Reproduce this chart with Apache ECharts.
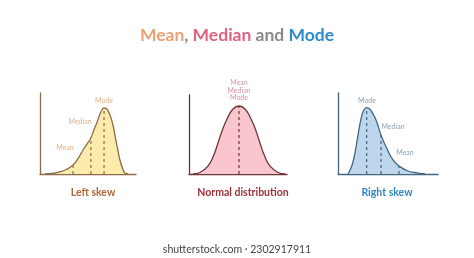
<!DOCTYPE html>
<html><head><meta charset="utf-8">
<script src="https://cdn.jsdelivr.net/npm/echarts@6/dist/echarts.min.js"></script>
<style>html,body{margin:0;padding:0;background:#fff}#c{width:474px;height:258px}</style>
</head><body><div id="c"></div>
<script>
// Left skew curve (x, density)
const leftX = [5.2,12.5,20.8,28,34.4,39.6,44.8,49,53,56,59.4,62.5,64.6,66.7,68.8,70.8,72.9,76,78,80.7,83.3,86,88.5,91.7];
const leftY = [0,0.6,2.5,6,11,19,29.6,37,44.4,54,64,74,79,81.5,81,78,73,60.5,48,32,17,7,1.2,0];
const leftMarkX = [34.4,53,66.7];      // mean, median, mode
const leftMarkY = [11,44.4,81.5];
const leftLabelX = [26,41.7,66.7];
const leftLabelY = [33,65,90];

// Normal distribution curve
const normX = [4.1,11.2,19.4,24.5,29.6,33.7,38.8,44.9,51,57.1,63.3,68.4,72.4,77.6,82.7,90.8,98];
const normY = [0,1.9,10.1,21.5,39.2,54.4,69.6,82.3,86.1,82.3,69.6,54.4,39.2,21.5,10.1,1.9,0];
const normMarkX = [51];
const normMarkY = [86.1];
const normLabelY = [115,106,96];

// Right skew curve
const rightX = [10,13,15,17.5,20,22,24,26,28.7,31,33.7,38.7,43,48.7,55,61,70,80,87];
const rightY = [0,7.4,15.2,29.6,48,62,73,79,81.9,81,77,64.6,48,32,17.3,9.9,3.7,1.2,0];
const rightMarkX = [28.7,43,61];      // mode, median, mean
const rightMarkY = [81.9,48,9.9];
const rightLabelX = [29,55,67];
const rightLabelY = [90,58,26];

const labelNames = ['Mean','Median','Mode'];
const rightNames = ['Mode','Median','Mean'];

const zip = (a,b)=>a.map((v,i)=>[v,b[i]]);
const FONT = 'Lato';

const panels = [
  {left:40,top:93,width:96,height:81,fill:'#fcecab',stroke:'#8b6b4b',lab:'#d69b6c',
   cx:leftX,cy:leftY,mx:leftMarkX,my:leftMarkY,
   labels:leftLabelX.map((x,i)=>({value:[x,leftLabelY[i]],name:labelNames[i]}))},
  {left:189,top:95,width:98,height:79,fill:'#f9c5cf',stroke:'#6e3535',lab:'#cf7a8b',
   cx:normX,cy:normY,mx:normMarkX,my:normMarkY,
   labels:normLabelY.map((y,i)=>({value:[51,y],name:labelNames[i]}))},
  {left:338,top:93,width:100,height:81,fill:'#bed6eb',stroke:'#41667f',lab:'#6a88a0',
   cx:rightX,cy:rightY,mx:rightMarkX,my:rightMarkY,
   labels:rightLabelX.map((x,i)=>({value:[x,rightLabelY[i]],name:rightNames[i]}))}
];

const grid=[],xAxis=[],yAxis=[],series=[];
panels.forEach((p,i)=>{
  grid.push({left:p.left,top:p.top,width:p.width,height:p.height});
  const axLine={show:true,lineStyle:{color:p.stroke,width:1.3}};
  xAxis.push({type:'value',gridIndex:i,min:0,max:100,axisLine:axLine,axisTick:{show:false},axisLabel:{show:false},splitLine:{show:false}});
  yAxis.push({type:'value',gridIndex:i,min:0,max:100,axisLine:axLine,axisTick:{show:false},axisLabel:{show:false},splitLine:{show:false}});
  series.push({type:'line',xAxisIndex:i,yAxisIndex:i,data:zip(p.cx,p.cy),smooth:true,symbol:'none',
    lineStyle:{color:p.stroke,width:1.3},areaStyle:{color:p.fill,opacity:1},z:2});
  p.mx.forEach((x,k)=>{
    series.push({type:'line',xAxisIndex:i,yAxisIndex:i,data:[[x,0],[x,p.my[k]]],symbol:'none',
      lineStyle:{color:p.stroke,width:1.2,type:[3,3]},z:3});
  });
  series.push({type:'scatter',xAxisIndex:i,yAxisIndex:i,data:p.labels,symbolSize:0,clip:false,
    label:{show:true,position:'inside',formatter:'{b}',color:p.lab,fontSize:7,fontFamily:FONT},z:4});
});

const chart = echarts.init(document.getElementById('c'));
chart.setOption({
  animation:false,
  title:[
    {text:'{a|Mean}{g|, }{b|Median}{g| and }{c|Mode}',left:'center',top:21,
     textStyle:{rich:{
       a:{color:'#eaa175',fontSize:17.5,fontWeight:'bold',fontFamily:FONT},
       b:{color:'#e0637f',fontSize:17.5,fontWeight:'bold',fontFamily:FONT},
       c:{color:'#2e8bc9',fontSize:17.5,fontWeight:'bold',fontFamily:FONT},
       g:{color:'#8a8a8a',fontSize:17.5,fontWeight:'bold',fontFamily:FONT}}}},
    {text:'Left skew',left:88,top:182,textAlign:'center',textStyle:{color:'#b4653b',fontSize:10.5,fontWeight:'bold',fontFamily:FONT}},
    {text:'Normal distribution',left:238,top:182,textAlign:'center',textStyle:{color:'#9c2f3c',fontSize:10.5,fontWeight:'bold',fontFamily:FONT}},
    {text:'Right skew',left:382,top:182,textAlign:'center',textStyle:{color:'#2f86c6',fontSize:10.5,fontWeight:'bold',fontFamily:FONT}},
    {text:'shutterstock.com · 2302917911',left:'center',top:239,textStyle:{color:'#444',fontSize:10.5,fontWeight:'normal',fontFamily:FONT}}
  ],
  grid,xAxis,yAxis,series
});
</script></body></html>
